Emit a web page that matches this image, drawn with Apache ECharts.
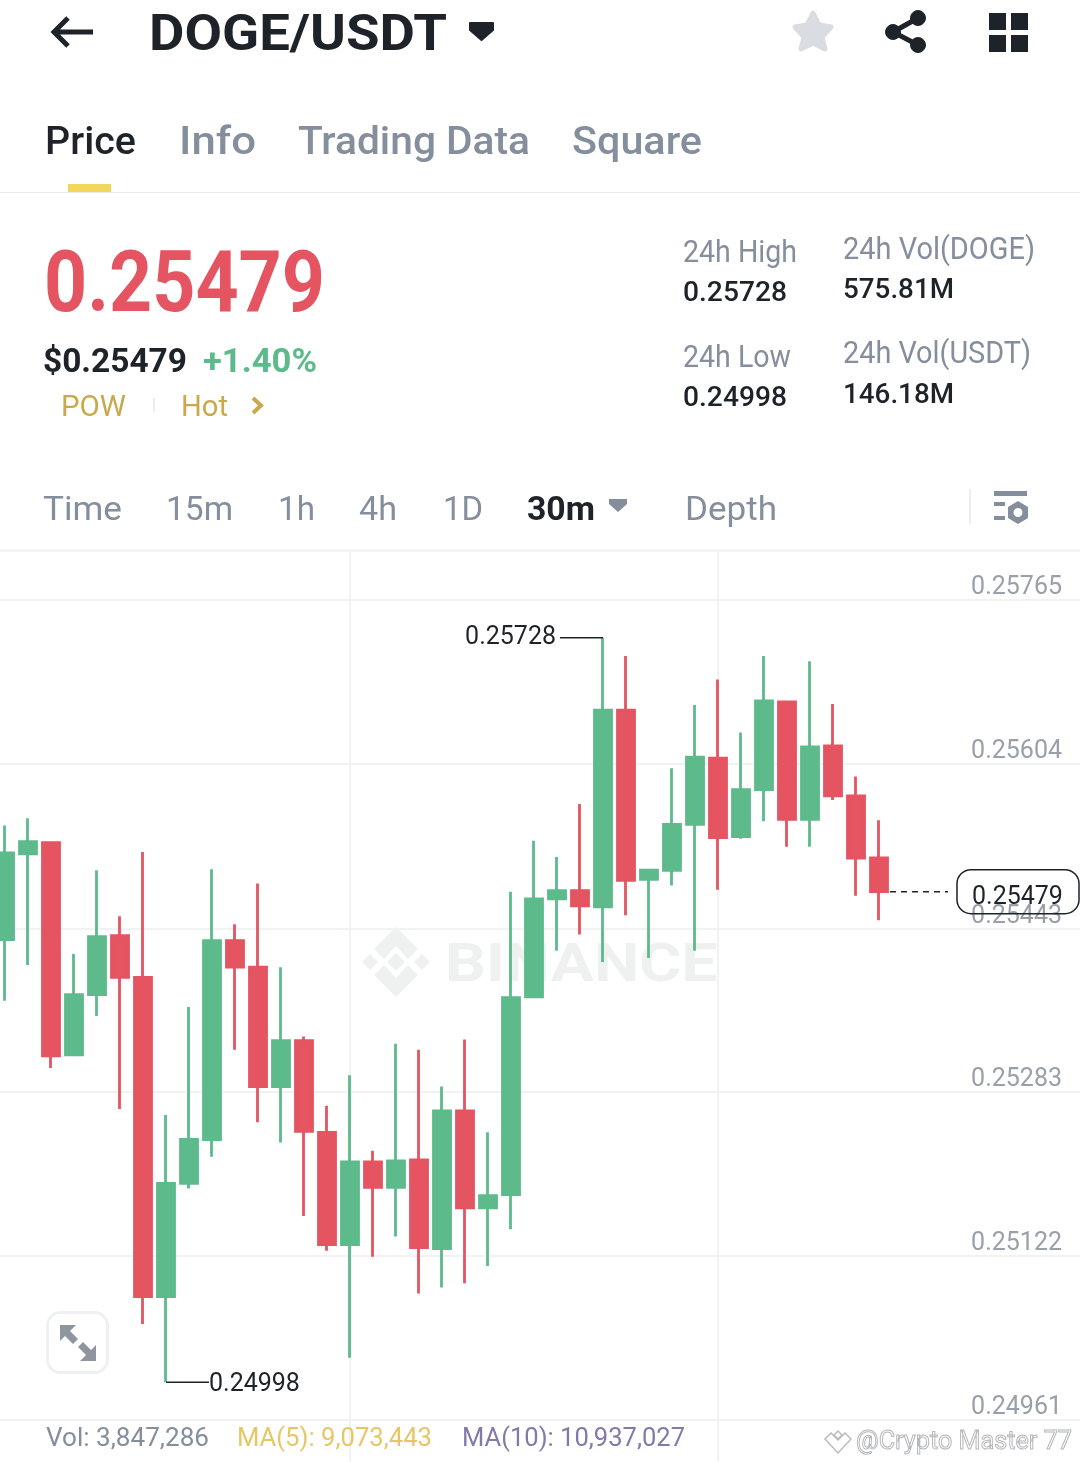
<!DOCTYPE html>
<html>
<head>
<meta charset="utf-8">
<title>DOGE/USDT</title>
<script src="https://cdn.jsdelivr.net/npm/echarts@6/dist/echarts.min.js"></script>
<style>
    html, body { margin: 0; padding: 0; background: #fff; }
    body { position: relative; width: 1080px; height: 1462px; overflow: hidden; font-family: Roboto, sans-serif; }
    #chart { position: absolute; left: 0; top: 0; width: 1080px; height: 1462px; }
    #icons { position: absolute; left: 0; top: 0; }
    .t { position: absolute; white-space: nowrap; line-height: 1; transform-origin: left center; }
</style>
</head>
<body>
<div id="chart"></div>
<svg id="icons" width="1080" height="1462" viewBox="0 0 1080 1462">
    <!-- header lines -->
    <rect x="0" y="192" width="1080" height="1" fill="#eaecef"/>
    <rect x="68" y="184" width="43" height="8" fill="#f3d65c"/>
    <rect x="0" y="549" width="1080" height="3" fill="#f3f4f5"/>
    <rect x="969" y="489" width="2" height="35" fill="#eceef0"/>
    <rect x="153" y="398" width="2" height="14" fill="#eceef0"/>
    <!-- back arrow -->
    <path d="M93 32H55M68 18L54 32L68 46" fill="none" stroke="#1e2329" stroke-width="5"/>
    <path d="M470 23H493V30L481.500 40L470 30Z" fill="#1e2329" stroke="#1e2329" stroke-width="2" stroke-linejoin="round"/>
    <!-- star -->
    <polygon points="813,13 819,25 831,27 822,37 825,49 813,43 801,49 804,37 795,27 807,25" fill="#d9dce1" stroke="#d9dce1" stroke-width="5" stroke-linejoin="round"/>
    <!-- share -->
    <g fill="#1e2329" stroke="#1e2329">
        <circle cx="918" cy="18" r="7.500"/>
        <circle cx="893" cy="32" r="7.500"/>
        <circle cx="918" cy="45" r="7.500"/>
        <path d="M918 18L893 32L918 45" fill="none" stroke-width="5"/>
    </g>
    <!-- grid -->
    <g fill="#1e2329">
        <rect x="989" y="13" width="17" height="17"/>
        <rect x="1011" y="13" width="17" height="17"/>
        <rect x="989" y="35" width="17" height="17"/>
        <rect x="1011" y="35" width="17" height="17"/>
    </g>
    <path d="M253 398L261 405.500L253 413" fill="none" stroke="#c9a94b" stroke-width="4"/>
    <path d="M609 499H627V504L618 512L609 504Z" fill="#848e9c"/>
    <!-- chart settings -->
    <g fill="#848e9c">
        <rect x="994" y="491" width="33" height="5"/>
        <rect x="994" y="502" width="11" height="4"/>
        <rect x="994" y="516" width="11" height="4"/>
        <path fill-rule="evenodd" d="M1018 501L1028 507V518L1018 524L1008 518V507ZM1018 508A4.500 4.500 0 1 0 1018 517A4.500 4.500 0 1 0 1018 508Z"/>
    </g>
    <!-- expand button -->
    <rect x="47.500" y="1312.500" width="60" height="60" rx="13" fill="#fff" stroke="#eef0f2" stroke-width="3"/>
    <g fill="#8f959e">
        <path d="M60 1325H76L70 1331L78 1339L73 1344L65 1336L60 1341Z"/>
        <path d="M96 1361H80L86 1355L78 1347L83 1342L91 1350L96 1345Z"/>
    </g>
    <!-- repost mark -->
    <g fill="none" stroke="#b9bcc0" stroke-width="1.500">
        <path d="M825 1439L838 1453L851 1439L845 1433L838 1440L831 1433Z"/>
        <path d="M838 1431L842 1435L838 1439L834 1435Z"/>
    </g>
</svg>
<script>
    // prices, one entry per candle
    var opens = [0.25432, 0.25516, 0.25527, 0.25319, 0.25378, 0.25436, 0.25395, 0.25082, 0.25193, 0.25236,
        0.25431, 0.25405, 0.25288, 0.25333, 0.25243, 0.25133, 0.25214, 0.25189, 0.25216, 0.25129,
        0.25264, 0.25169, 0.25182, 0.25376, 0.25472, 0.25480, 0.25464, 0.25657, 0.25491, 0.25500,
        0.25545, 0.25610, 0.25533, 0.25579, 0.25665, 0.25550, 0.25622, 0.25573, 0.25512];
    var closes = [0.25517, 0.25528, 0.25318, 0.25378, 0.25435, 0.25395, 0.25082, 0.25193, 0.25236, 0.25431,
        0.25405, 0.25288, 0.25333, 0.25244, 0.25133, 0.25214, 0.25189, 0.25215, 0.25130, 0.25264,
        0.25169, 0.25181, 0.25375, 0.25472, 0.25480, 0.25465, 0.25657, 0.25490, 0.25500, 0.25545,
        0.25611, 0.25532, 0.25579, 0.25666, 0.25550, 0.25621, 0.25573, 0.25512, 0.25479];
    var lows = [0.25372, 0.25407, 0.25306, 0.25318, 0.25357, 0.25266, 0.25055, 0.24998, 0.25188, 0.25219,
        0.25324, 0.25253, 0.25233, 0.25161, 0.25127, 0.25022, 0.25121, 0.25141, 0.25085, 0.25091,
        0.25095, 0.25112, 0.25148, 0.25376, 0.25421, 0.25437, 0.25410, 0.25456, 0.25414, 0.25485,
        0.25421, 0.25481, 0.25531, 0.25548, 0.25523, 0.25523, 0.25569, 0.25475, 0.25451];
    var highs = [0.25544, 0.25551, 0.25528, 0.25418, 0.25500, 0.25455, 0.25518, 0.25260, 0.25366, 0.25501,
        0.25447, 0.25487, 0.25405, 0.25337, 0.25269, 0.25299, 0.25225, 0.25330, 0.25324, 0.25288,
        0.25334, 0.25243, 0.25479, 0.25529, 0.25513, 0.25565, 0.25728, 0.25710, 0.25500, 0.25600,
        0.25662, 0.25687, 0.25635, 0.25710, 0.25665, 0.25705, 0.25663, 0.25592, 0.25549];
    var priceTicks = [0.24961, 0.25122, 0.25283, 0.25443, 0.25604, 0.25765];
    var lastPrice = 0.25479;
    var dayHigh = 0.25728;
    var dayLow = 0.24998;
    var gridCandles = [15, 31]; // candles that sit on the vertical grid lines
    var emptySlots = 9; // room on the right of the last candle

    var UP = "#5dba8a",
        DOWN = "#e45461",
        INK = "#1e2329",
        GRAY = "#848e9c",
        GOLD = "#c9a94b";

    function label(text, left, mid, size, weight, color, width) {
        var el = document.createElement("span");
        el.className = "t";
        el.textContent = text;
        el.style.left = left + "px";
        el.style.top = mid + "px";
        el.style.fontSize = size + "px";
        el.style.fontWeight = weight;
        el.style.color = color;
        el.style.transform = "translateY(-50%)";
        document.body.appendChild(el);
        // squeeze to the width the narrower original font has
        var k = width / el.getBoundingClientRect().width;
        el.style.transform = "translateY(-50%) scaleX(" + k + ")";
        return el;
    }

    label("DOGE/USDT", 149, 33, 50, 700, INK, 298);

    label("Price", 45, 141, 39, 500, INK, 91);
    label("Info", 179, 141, 39, 500, GRAY, 77);
    label("Trading Data", 298, 141, 39, 500, GRAY, 232);
    label("Square", 572, 141, 39, 500, GRAY, 130);

    label("0.25479", 44, 282, 85, 700, DOWN, 281);
    label("$0.25479", 43, 360, 33, 700, INK, 144);
    label("+1.40%", 203, 360, 33, 700, UP, 114);
    label("POW", 61, 406, 29, 400, GOLD, 65);
    label("Hot", 181, 406, 29, 400, GOLD, 47);

    label("24h High", 683, 251, 31, 400, GRAY, 114);
    label("0.25728", 683, 292, 28, 500, INK, 104);
    label("24h Low", 683, 356, 31, 400, GRAY, 108);
    label("0.24998", 683, 397, 28, 500, INK, 104);
    label("24h Vol(DOGE)", 843, 248, 31, 400, GRAY, 192);
    label("575.81M", 843, 289, 28, 500, INK, 111);
    label("24h Vol(USDT)", 843, 352, 31, 400, GRAY, 188);
    label("146.18M", 843, 394, 28, 500, INK, 111);

    label("Time", 43, 508, 34, 400, GRAY, 79);
    label("15m", 166, 508, 34, 400, GRAY, 67);
    label("1h", 278, 508, 34, 400, GRAY, 37);
    label("4h", 359, 508, 34, 400, GRAY, 38);
    label("1D", 443, 508, 34, 400, GRAY, 40);
    label("30m", 527, 508, 34, 700, INK, 68);
    label("Depth", 685, 508, 34, 400, GRAY, 92);

    label("Vol: 3,847,286", 46, 1437, 25, 400, GRAY, 163);
    label("MA(5): 9,073,443", 237, 1437, 25, 400, "#e6c766", 195);
    label("MA(10): 10,937,027", 462, 1437, 25, 400, "#8479ab", 223);
    var mark = label("@Crypto Master 77", 856, 1440, 26, 400, "#fff", 216);
    mark.style.webkitTextStroke = "1px #b4b7bb";

    var categories = [],
        candles = [],
        lastLine = [];
    for (var i = 0; i < opens.length + emptySlots; i++) {
        categories.push(String(i));
        lastLine.push(i >= opens.length - 1 && i < opens.length + 3 ? lastPrice : null);
        if (i < opens.length) {
            candles.push([opens[i], closes[i], lows[i], highs[i]]);
        }
    }

    var chart = echarts.init(document.getElementById("chart"));

    chart.setOption({
        animation: false,
        backgroundColor: "transparent",
        grid: {
            outerBoundsMode: "none",
            left: -6.5,
            top: 552.05,
            width: 23 * categories.length,
            height: 909.75
        },
        xAxis: {
            type: "category",
            data: categories,
            axisLine: { show: false },
            axisTick: { show: false },
            axisLabel: { show: false },
            splitLine: { show: false }
        },
        yAxis: {
            type: "value",
            position: "right",
            scale: true,
            min: 0.2492,
            max: 0.25812,
            axisLine: { show: false },
            axisTick: { show: false, customValues: priceTicks },
            splitLine: { show: true, lineStyle: { color: "#eceef0", width: 1.5 } },
            axisLabel: {
                inside: true,
                customValues: priceTicks,
                margin: 35.5,
                color: "#9aa0a9",
                fontFamily: "Roboto",
                fontSize: 25,
                lineHeight: 24,
                verticalAlign: "bottom",
                formatter: function(v) {
                    return v.toFixed(5);
                }
            }
        },
        series: [{
                type: "line",
                z: 1,
                data: lastLine,
                symbol: "none",
                silent: true,
                lineStyle: { color: INK, width: 1.5, type: [6, 5] }
            },
            {
                type: "candlestick",
                z: 2,
                data: candles,
                barWidth: 17,
                clip: false,
                itemStyle: {
                    color: UP,
                    color0: DOWN,
                    borderColor: UP,
                    borderColor0: DOWN,
                    borderWidth: 2.8
                },
                markLine: {
                    silent: true,
                    symbol: "none",
                    z: 0,
                    label: { show: false },
                    lineStyle: { color: "#eceef0", width: 1.5, type: "solid" },
                    data: gridCandles.map(function(c) {
                        return { xAxis: c };
                    })
                }
            }
        ]
    });

    // call-outs hang on the scale, so they are placed after the axes exist
    function callout(index, price, side) {
        var p = chart.convertToPixel({ xAxisIndex: 0, yAxisIndex: 0 }, [index, price]),
            end = p[0] + side * 43;
        return [{
                type: "line",
                z: 20,
                shape: { x1: p[0], y1: p[1], x2: end, y2: p[1] },
                style: { stroke: INK, lineWidth: 1.5 }
            },
            {
                type: "text",
                z: 20,
                x: end + (side > 0 ? 0 : -4),
                y: p[1] + (side > 0 ? 3 : 0),
                style: {
                    text: price.toFixed(5),
                    fill: INK,
                    font: "25px Roboto",
                    align: side > 0 ? "left" : "right",
                    verticalAlign: "middle"
                }
            }
        ];
    }

    var lastY = chart.convertToPixel({ yAxisIndex: 0 }, lastPrice);

    chart.setOption({
        graphic: [{
                // exchange watermark, below the candles
                type: "group",
                x: 396,
                y: 962,
                z: 0,
                children: [
                    [[0, -35], [22, -13], [12, -3], [0, -16], [-12, -3], [-22, -13]],
                    [[0, 35], [22, 13], [12, 3], [0, 16], [-12, 3], [-22, 13]],
                    [[0, -9], [9, 0], [0, 9], [-9, 0]],
                    [[-26, -8], [-18, 0], [-26, 8], [-34, 0]],
                    [[26, -8], [34, 0], [26, 8], [18, 0]]
                ].map(function(points) {
                    return {
                        type: "polygon",
                        shape: { points: points },
                        style: { fill: "#eff1f1" }
                    };
                })
            },
            {
                type: "text",
                x: 445,
                y: 967,
                z: 0,
                style: {
                    text: "BINANCE",
                    fill: "#eff1f1",
                    font: "bold 54px Roboto",
                    verticalAlign: "middle"
                },
                scaleX: 1.19
            },
            {
                // current price pill
                type: "rect",
                z: 30,
                shape: { x: 957, y: lastY - 22, width: 122, height: 44, r: 14 },
                style: { fill: "none", stroke: INK, lineWidth: 1.5 }
            },
            {
                type: "text",
                z: 31,
                x: 972,
                y: lastY + 6,
                style: {
                    text: lastPrice.toFixed(5),
                    fill: INK,
                    font: "25px Roboto",
                    verticalAlign: "middle"
                }
            }
        ].concat(callout(highs.indexOf(dayHigh), dayHigh, -1), callout(lows.indexOf(dayLow), dayLow, 1))
    });
</script>
</body>
</html>
